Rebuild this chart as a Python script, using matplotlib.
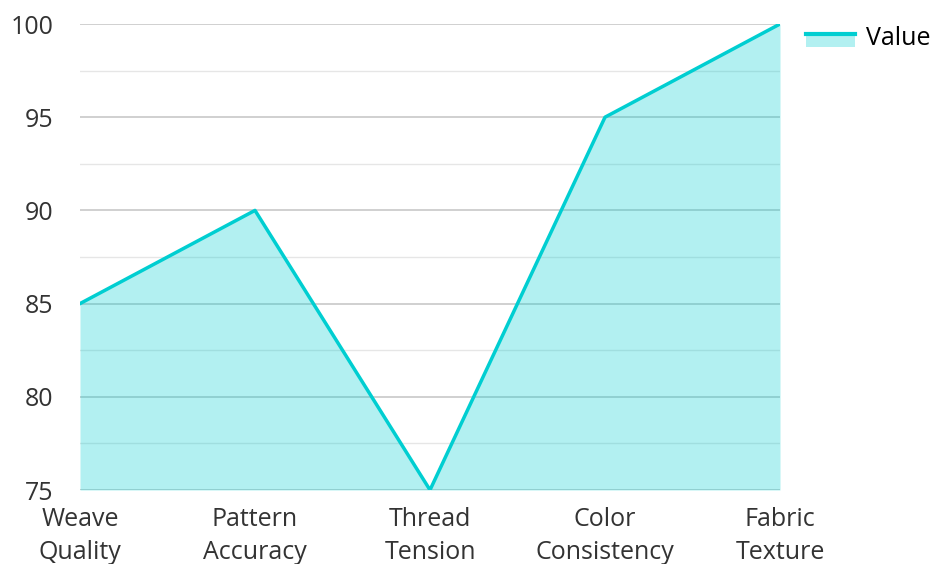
import matplotlib

matplotlib.use("Agg")
import matplotlib.pyplot as plt
from matplotlib.legend_handler import HandlerBase
from matplotlib.lines import Line2D
from matplotlib.patches import Rectangle

categories = ["Weave\nQuality", "Pattern\nAccuracy", "Thread\nTension",
              "Color\nConsistency", "Fabric\nTexture"]
values = [85, 90, 75, 95, 100]

LINE = "#00CED1"
FILL = "#B2F0F1"


class AreaHandler(HandlerBase):
    def create_artists(self, legend, orig, xd, yd, width, height, fontsize, trans):
        top = yd + height * 0.75
        bottom = yd - height * 0.05
        rect = Rectangle((xd, bottom), width, top - bottom,
                         facecolor=FILL, edgecolor="none", transform=trans)
        line = Line2D([xd, xd + width], [top, top], color=LINE, lw=3, transform=trans)
        return [rect, line]


plt.rcParams["font.family"] = ["Open Sans", "DejaVu Sans"]

fig = plt.figure(figsize=(9.3, 5.64), dpi=100)
ax = fig.add_axes([80 / 930, 1 - 490 / 564, 700 / 930, 466 / 564])

x = list(range(len(categories)))
ax.fill_between(x, values, 75, color=LINE, alpha=0.3, lw=0, zorder=2)
ax.plot(x, values, color=LINE, lw=2.5, zorder=3)

ax.set_xlim(0, len(categories) - 1)
ax.set_ylim(75, 100)
ax.set_yticks(range(75, 101, 5))
ax.set_yticks([77.5, 82.5, 87.5, 92.5, 97.5], minor=True)
ax.set_xticks(x)
ax.set_xticklabels(categories)

ax.grid(axis="y", which="major", color="#C8C8C8", lw=1.2, zorder=1)
ax.grid(axis="y", which="minor", color="#E6E6E6", lw=1.0, zorder=1)
ax.set_axisbelow(True)

for side in ax.spines.values():
    side.set_visible(False)
ax.tick_params(axis="both", which="both", length=0, labelsize=18, labelcolor="#333333")
ax.tick_params(axis="y", pad=19)
ax.tick_params(axis="x", pad=12)
for lbl in ax.get_xticklabels():
    lbl.set_linespacing(1.42)

ax.legend([object()], ["Value"], handler_map={object: AreaHandler()},
          loc="upper left", bbox_to_anchor=(806 / 930, 1 - 26 / 564),
          bbox_transform=fig.transFigure, frameon=False, fontsize=18,
          handlelength=1.95, handleheight=0.6, handletextpad=0.45,
          borderaxespad=0, borderpad=0)

fig.savefig("out.png", dpi=100)
